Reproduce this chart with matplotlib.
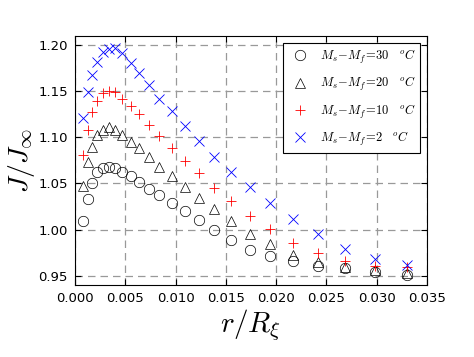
import numpy as np
import matplotlib
matplotlib.use("Agg")
import matplotlib.pyplot as plt

# radial positions r / R_xi (shared by all four series)
r_ratio = [0.00083, 0.00126, 0.00172, 0.00222, 0.00275, 0.00338, 0.00398,
           0.00470, 0.00554, 0.00639, 0.00739, 0.00838, 0.00962, 0.01094,
           0.01233, 0.01385, 0.01551, 0.01740, 0.01939, 0.02171, 0.02416,
           0.02685, 0.02983, 0.03298]

# J / J_inf for each Ms - Mf value
j_30 = [1.009, 1.033, 1.050, 1.062, 1.067, 1.068, 1.067, 1.062, 1.058, 1.052,
        1.044, 1.037, 1.029, 1.020, 1.010, 1.000, 0.989, 0.978, 0.971, 0.966,
        0.961, 0.958, 0.954, 0.951]
j_20 = [1.047, 1.073, 1.090, 1.102, 1.108, 1.111, 1.108, 1.103, 1.095, 1.088,
        1.079, 1.068, 1.058, 1.046, 1.034, 1.022, 1.009, 0.995, 0.984, 0.973,
        0.965, 0.960, 0.956, 0.953]
j_10 = [1.081, 1.108, 1.127, 1.139, 1.148, 1.150, 1.149, 1.142, 1.134, 1.125,
        1.113, 1.101, 1.088, 1.074, 1.061, 1.045, 1.031, 1.015, 1.001, 0.986,
        0.975, 0.966, 0.961, 0.959]
j_2 = [1.121, 1.149, 1.168, 1.182, 1.192, 1.196, 1.197, 1.191, 1.181, 1.170,
       1.157, 1.142, 1.129, 1.112, 1.096, 1.079, 1.062, 1.046, 1.029, 1.011,
       0.995, 0.979, 0.968, 0.962]

labels = [r"$M_s\!-\!M_f\!=\!30\quad ^o C$",
          r"$M_s\!-\!M_f\!=\!20\quad ^o C$",
          r"$M_s\!-\!M_f\!=\!10\quad ^o C$",
          r"$M_s\!-\!M_f\!=\!2\quad ^o C$"]

plt.rcParams["mathtext.fontset"] = "cm"
plt.rcParams["xtick.direction"] = "in"
plt.rcParams["ytick.direction"] = "in"
plt.rcParams["xtick.top"] = True
plt.rcParams["ytick.right"] = True
plt.rcParams["xtick.major.size"] = 4
plt.rcParams["ytick.major.size"] = 4

fig = plt.figure(figsize=(4.74, 3.57), dpi=100)
ax = fig.add_axes([0.158, 0.2017, 0.743, 0.698])

ax.plot(r_ratio, j_30, "o", mfc="none", mec="k", ms=7.5, mew=0.5, label=labels[0])
ax.plot(r_ratio, j_20, "^", mfc="none", mec="k", ms=7.5, mew=0.5, label=labels[1])
ax.plot(r_ratio, j_10, "+", color="r", ms=7.5, mew=0.6, label=labels[2])
ax.plot(r_ratio, j_2, "x", color="b", ms=7.5, mew=0.6, label=labels[3])

ax.set_xlim(0, 0.035)
ax.set_ylim(0.94, 1.21)
ax.set_xticks(np.arange(0, 0.0351, 0.005))
ax.set_yticks(np.arange(0.95, 1.201, 0.05))
ax.xaxis.set_major_formatter(matplotlib.ticker.FormatStrFormatter("%.3f"))
ax.yaxis.set_major_formatter(matplotlib.ticker.FormatStrFormatter("%.2f"))
ax.tick_params(labelsize=9.5, pad=5)

ax.grid(True, color="0.6", linestyle=(0, (6, 4)), linewidth=0.9)
ax.set_axisbelow(True)

ax.set_xlabel(r"$r/R_\xi$", fontsize=21, labelpad=2)
ax.set_ylabel(r"$J/J_\infty$", fontsize=20, labelpad=1)

leg = ax.legend(loc="upper right", fontsize=9, fancybox=False,
                edgecolor="k", framealpha=1, borderaxespad=0.55,
                handletextpad=0.7, labelspacing=0.75, numpoints=1,
                handlelength=1.8)
leg.get_frame().set_linewidth(0.8)

fig.savefig("out.png", dpi=100)
